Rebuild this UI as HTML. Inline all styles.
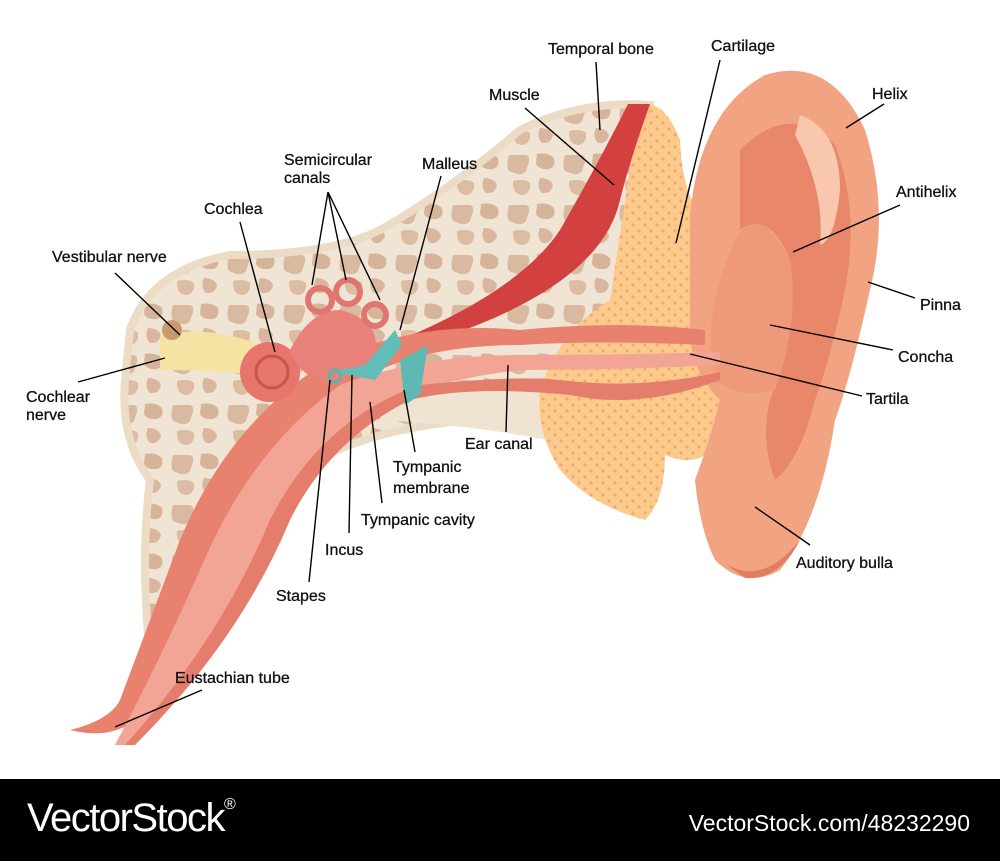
<!DOCTYPE html>
<html><head><meta charset="utf-8"><style>
html,body{margin:0;padding:0;background:#fff;}
body{width:1000px;height:861px;position:relative;overflow:hidden;font-family:"Liberation Sans",sans-serif;}
svg{position:absolute;left:0;top:0;}
.footer{position:absolute;left:0;top:779px;width:1000px;height:82px;background:#000;}
.f1{position:absolute;left:27px;top:796px;color:#fff;font-size:40px;letter-spacing:-1.5px;}
.f2{position:absolute;right:30px;top:810px;color:#fff;font-size:23px;}
</style></head><body>
<svg width="1000" height="780" viewBox="0 0 1000 780">
<defs>
<pattern id="sp" width="56" height="50" patternUnits="userSpaceOnUse">
<rect width="56" height="50" fill="#f0e4d4"/>
<path d="M5 5 h16 q5 0 4 7 l-3 9 q-3 4 -9 3 l-8 -3 q-3 -5 0 -16z" fill="#d9b9a0"/>
<path d="M33 4 q11 -2 17 4 q2 9 -5 11 q-10 1 -13 -5z" fill="#d6b49a"/>
<path d="M9 31 q11 -3 17 2 q1 10 -7 12 q-11 0 -10 -14z" fill="#dcbda4"/>
<path d="M36 28 q10 0 13 7 q-2 9 -11 8 q-6 -6 -2 -15z" fill="#d8b79e"/>
</pattern>
<pattern id="dots" width="12" height="12" patternUnits="userSpaceOnUse">
<rect width="12" height="12" fill="#fcca8d"/>
<circle cx="3" cy="3" r="1.6" fill="#f1ab6a"/><circle cx="9" cy="9" r="1.6" fill="#f1ab6a"/>
</pattern>
</defs>
<!-- bone -->
<path d="M130 330 Q150 270 230 255 Q330 255 380 230 Q450 190 520 130 Q580 100 650 105 L630 300 L560 380 Q520 420 470 420 Q360 430 300 470 Q230 520 180 650 L150 655 Q140 560 150 480 Q120 440 125 380 Z" fill="url(#sp)" stroke="#ecdcc6" stroke-width="8"/>
<path d="M380 400 Q460 380 545 385 L548 440 Q470 425 380 420Z" fill="#efe3d2"/>
<!-- cartilage -->
<path d="M640 104 Q665 100 680 140 Q682 190 700 215 Q720 260 720 330 L722 440 Q700 470 665 455 Q665 500 645 520 Q590 505 560 470 Q535 430 540 390 Q560 330 610 300 Z" fill="url(#dots)"/>
<!-- muscle -->
<path d="M628 104 L650 104 Q630 160 620 200 Q600 290 420 345 L400 340 Q520 290 560 230 Q600 160 628 104 Z" fill="#d2413f"/>
<!-- pinna -->
<path d="M690 215 Q700 110 765 75 Q830 55 865 130 Q890 210 870 290 Q850 380 835 420 Q820 520 780 570 Q745 590 715 560 Q700 530 695 480 Q710 440 720 400 Q690 370 690 330 Z" fill="#f2a482"/>
<path d="M740 150 Q790 100 835 145 Q860 210 845 290 Q830 360 815 400 Q800 460 775 480 Q760 440 770 400 Q800 320 790 260 Q770 210 740 230 Z" fill="#e8876a"/>
<path d="M735 240 Q760 200 790 260 Q800 320 775 390 Q740 400 715 380 Q700 320 735 240Z" fill="#ee9a7a"/>
<path d="M800 115 Q840 130 840 190 Q835 240 820 245 Q825 190 795 135Z" fill="#f8c7ae"/>
<path d="M720 560 Q760 590 800 540 Q780 580 745 578 Z" fill="#e07d62"/>
<!-- canal and tube -->
<path d="M705 345 Q600 340 520 345 Q420 345 360 380 Q260 440 220 530 Q170 640 135 720 Q110 740 70 730 Q110 720 120 700 Q150 620 180 540 Q230 420 330 360 Q420 320 520 330 Q620 320 705 330 Z" fill="#e8826f"/>
<path d="M720 365 Q620 370 520 370 Q430 380 380 410 Q300 470 260 560 Q220 650 135 745 L115 745 Q160 660 200 570 Q250 450 340 385 Q420 355 520 355 Q620 355 720 352 Z" fill="#f2a594"/>
<path d="M720 380 Q640 410 570 395 Q470 385 410 400 Q330 440 290 520 Q240 640 135 745 L125 745 Q220 640 270 520 Q320 420 420 385 Q520 375 560 380 Q640 390 720 372Z" fill="#e47d6c"/>
<!-- cochlea & nerves -->
<path d="M160 335 Q210 325 260 345 L260 375 Q210 370 160 370 Z" fill="#f6e3a4"/>
<circle cx="172" cy="330" r="10" fill="#c99a70"/>
<circle cx="270" cy="372" r="30" fill="#e8756b"/>
<circle cx="272" cy="372" r="16" fill="none" stroke="#c95550" stroke-width="3"/>
<path d="M290 350 Q310 310 340 310 Q380 320 375 350 Q360 380 330 380 Q300 380 290 350Z" fill="#e9817a"/>
<circle cx="320" cy="300" r="12" fill="none" stroke="#e07670" stroke-width="6"/>
<circle cx="348" cy="292" r="12" fill="none" stroke="#e07670" stroke-width="6"/>
<circle cx="375" cy="315" r="11" fill="none" stroke="#e07670" stroke-width="6"/>
<!-- ossicles -->
<path d="M330 372 L365 365 L395 330 L402 345 L375 380Z" fill="#62bcb8"/>
<circle cx="335" cy="376" r="6" fill="none" stroke="#5ab3ae" stroke-width="3"/>
<path d="M400 360 L428 345 L420 395 L405 405Z" fill="#5fb8b3"/>
<!-- lines -->
<g stroke="#000" stroke-width="1.4" fill="none">
<path d="M596 62 L600 130"/><path d="M720 60 L676 243"/><path d="M884 104 L846 128"/>
<path d="M525 108 L614 185"/><path d="M328 192 L312 285 M328 192 L346 280 M328 192 L380 300"/>
<path d="M441 176 L400 330"/><path d="M240 222 L275 352"/><path d="M900 205 L793 252"/>
<path d="M115 273 L180 335"/><path d="M915 298 L868 282"/><path d="M893 350 L770 325"/>
<path d="M78 382 L165 358"/><path d="M862 396 L690 354"/><path d="M506 432 L508 365"/>
<path d="M415 452 L404 390"/><path d="M382 503 L370 402"/><path d="M349 533 L352 375"/>
<path d="M309 582 L330 380"/><path d="M810 545 L755 507"/><path d="M202 690 L115 727"/>
</g>
<g font-family="Liberation Sans, sans-serif" font-size="16" fill="#111" stroke="#111" stroke-width="0.3">
<text x="548" y="54">Temporal bone</text><text x="711" y="51">Cartilage</text>
<text x="872" y="99">Helix</text><text x="489" y="100">Muscle</text>
<text x="284" y="165">Semicircular</text><text x="284" y="183">canals</text>
<text x="422" y="169">Malleus</text><text x="204" y="214">Cochlea</text>
<text x="896" y="197">Antihelix</text><text x="52" y="262">Vestibular nerve</text>
<text x="920" y="310">Pinna</text><text x="898" y="362">Concha</text>
<text x="26" y="402">Cochlear</text><text x="26" y="420">nerve</text>
<text x="866" y="404">Tartila</text><text x="465" y="449">Ear canal</text>
<text x="393" y="472">Tympanic</text><text x="393" y="493">membrane</text>
<text x="361" y="525">Tympanic cavity</text><text x="325" y="555">Incus</text>
<text x="796" y="568">Auditory bulla</text><text x="276" y="601">Stapes</text>
<text x="175" y="683">Eustachian tube</text>
</g>
</svg>
<div class="footer"></div>
<div class="f1">VectorStock<span style="font-size:16px;vertical-align:top">®</span></div>
<div class="f2">VectorStock.com/48232290</div>
</body></html>
